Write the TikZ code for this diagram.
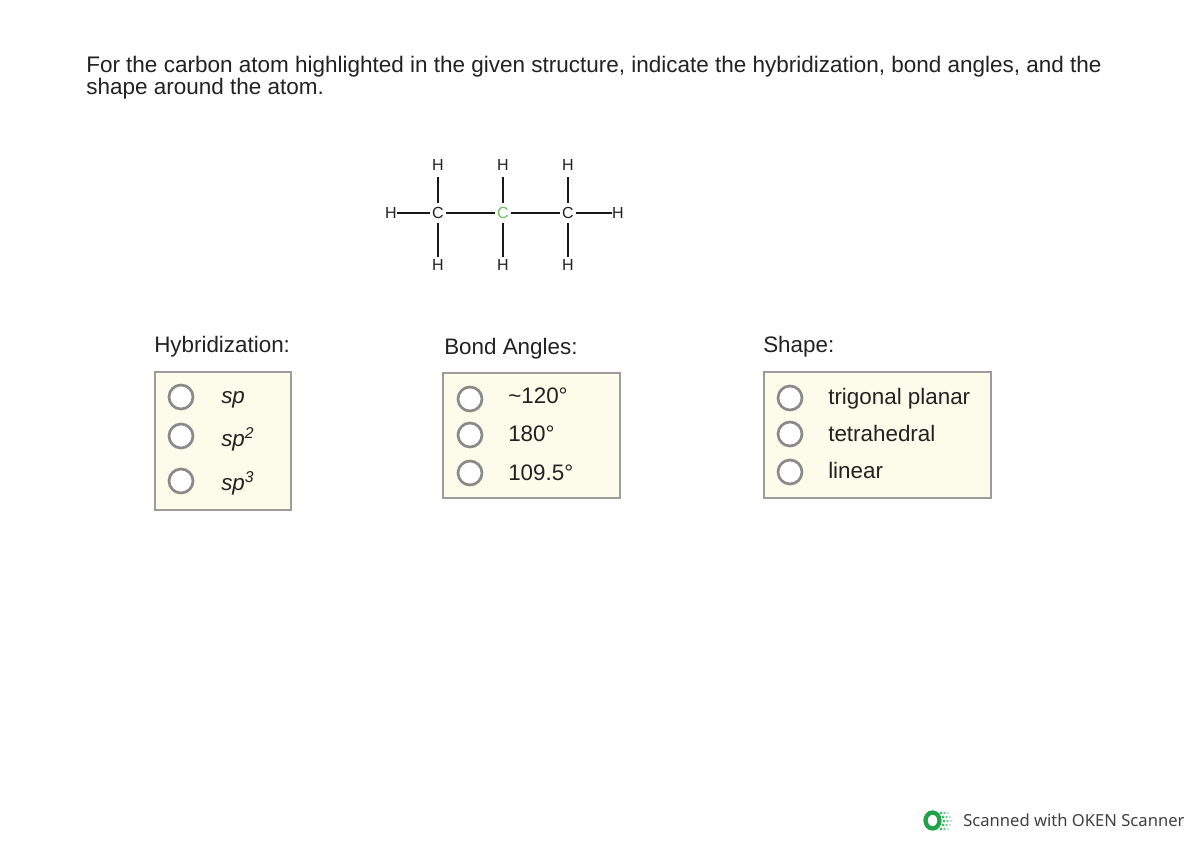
\documentclass[tikz,border=0pt]{standalone}
\usepackage{fontspec}
\setmainfont{Liberation Sans}
\newfontfamily\scanfont{Noto Sans}
\definecolor{boxfill}{HTML}{FDFBEA}
\definecolor{boxline}{HTML}{9C9C98}
\definecolor{hlgreen}{HTML}{6FBF5A}
\definecolor{radioline}{HTML}{8A8A88}
\definecolor{okengreen}{HTML}{1FA24A}
\definecolor{inktext}{HTML}{222222}
\tikzset{
  px/.style={x=0.75pt,y=-0.75pt},
  titletext/.style={anchor=base west,inner sep=0pt,font=\fontsize{16.87}{18}\selectfont,text=inktext},
  labeltext/.style={anchor=base west,inner sep=0pt,font=\fontsize{16.8}{18}\selectfont,text=inktext},
  opttext/.style={anchor=base west,inner sep=0pt,font=\fontsize{16.8}{18}\selectfont,text=inktext},
  optbox/.style={draw=boxline,fill=boxfill,line width=2.1pt},
  radio/.style={circle,draw=radioline,fill=white,line width=2pt,minimum size=18pt,inner sep=0pt},
  hatom/.style={rectangle,inner sep=0pt,minimum width=9pt,minimum height=18pt,font=\fontsize{12}{12}\selectfont,text=inktext},
  lowh/.style={hatom,minimum height=12pt},
  catom/.style={rectangle,inner sep=0pt,minimum width=11pt,minimum height=15pt,font=\fontsize{12}{12}\selectfont,text=inktext},
  bond/.style={draw=black!90,line width=1.3pt},
  scantext/.style={anchor=base west,inner sep=0pt,font=\scanfont\fontsize{12.45}{14}\selectfont,text=black!75}
}
\begin{document}
\begin{tikzpicture}[px]
\useasboundingbox (0,0) rectangle (1200,848);
\fill[white] (0,0) rectangle (1200,848);
% question
\node[titletext] (t1) at (86,73) {For the carbon atom highlighted in the given structure, indicate the hybridization, bond angles, and the};
\node[titletext] (t2) at (86,95) {shape around the atom.};
% molecule
\node[catom] (c1) at (438,213) {C};
\node[catom,text=hlgreen] (c2) at (503,213) {C};
\node[catom] (c3) at (568,213) {C};
\node[hatom] (h1) at (391,213) {H};
\node[hatom] (h2) at (618,213) {H};
\node[hatom] (ta) at (438,165) {H};
\node[hatom] (tb) at (503,165) {H};
\node[hatom] (tc) at (568,165) {H};
\node[lowh] (ba) at (438,265) {H};
\node[lowh] (bb) at (503,265) {H};
\node[lowh] (bc) at (568,265) {H};
\draw[bond] (h1) -- (c1);
\draw[bond] (c1) -- (c2);
\draw[bond] (c2) -- (c3);
\draw[bond] (c3) -- (h2);
\draw[bond] (ta) -- (c1);
\draw[bond] (tb) -- (c2);
\draw[bond] (tc) -- (c3);
\draw[bond] (c1) -- (ba);
\draw[bond] (c2) -- (bb);
\draw[bond] (c3) -- (bc);
% headings
\node[labeltext] (lh) at (154,353) {Hybridization:};
\node[labeltext] (lb) at (444,355) {Bond Angles:};
\node[labeltext] (ls) at (763,353) {Shape:};
% boxes
\draw[optbox] (155,372) rectangle (291,510);
\draw[optbox] (443,373) rectangle (620,498);
\draw[optbox] (764,372) rectangle (991,498);
% radios
\node[radio] (r1) at (181,397) {};
\node[radio] (r2) at (181,436) {};
\node[radio] (r3) at (181,481) {};
\node[radio] (r4) at (470,399) {};
\node[radio] (r5) at (470,435) {};
\node[radio] (r6) at (470,473) {};
\node[radio] (r7) at (790,398) {};
\node[radio] (r8) at (790,434) {};
\node[radio] (r9) at (790,472) {};
% options
\node[opttext] (o1) at (221,404) {\itshape sp};
\node[opttext] (o2) at (221,447) {\itshape sp\textsuperscript{2}};
\node[opttext] (o3) at (221,491) {\itshape sp\textsuperscript{3}};
\node[opttext] (o4) at (508,404) {\textasciitilde 120°};
\node[opttext] (o5) at (508,442) {180°};
\node[opttext] (o6) at (508,480) {109.5°};
\node[opttext] (o7) at (828,405) {trigonal planar};
\node[opttext] (o8) at (828,442) {tetrahedral};
\node[opttext] (o9) at (828,479) {linear};
% scanner logo
\draw[okengreen,line width=3.2pt] (932.5,820.5) ellipse (7 and 8);
\foreach \yy/\xa in {813/941,817/943,821/944,825/943,829/941}{
  \fill[okengreen!80] (\xa,\yy) circle (1.6);
  \fill[okengreen!60] (\xa+3.5,\yy) circle (1.4);
  \fill[okengreen!40] (\xa+7,\yy) circle (1.2);
}
\node[scantext] (scan) at (963,826) {Scanned with OKEN Scanner};
\end{tikzpicture}
\end{document}
